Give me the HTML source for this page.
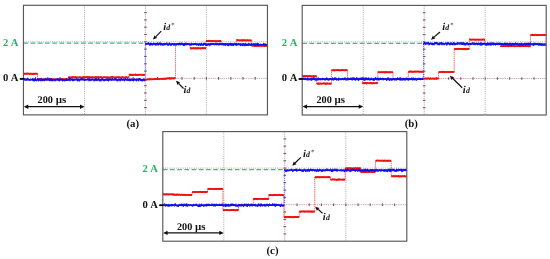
<!DOCTYPE html>
<html><head><meta charset="utf-8"><style>
html,body{margin:0;padding:0;background:#fff;}
body{width:550px;height:259px;overflow:hidden;}
svg{display:block;}
text{font-family:"Liberation Serif","Times New Roman",serif;text-rendering:geometricPrecision;}
</style></head><body>
<svg width="550" height="259" viewBox="0 0 550 259">
<rect width="550" height="259" fill="#fff"/>
<line x1="84.5" y1="5.3" x2="84.5" y2="114.89999999999999" stroke="#a0a0a0" stroke-width="0.9" stroke-dasharray="1 1.2"/>
<line x1="206.4" y1="5.3" x2="206.4" y2="114.89999999999999" stroke="#a0a0a0" stroke-width="0.9" stroke-dasharray="1 1.2"/>
<line x1="23.45" y1="41.8" x2="267.45" y2="41.8" stroke="#a0a0a0" stroke-width="0.9" stroke-dasharray="1 1.2"/>
<line x1="145.4" y1="5.3" x2="145.4" y2="114.89999999999999" stroke="#c29aae" stroke-width="0.85" stroke-dasharray="1.4 0.8"/>
<line x1="23.45" y1="78.4" x2="267.45" y2="78.4" stroke="#c29aae" stroke-width="0.85" stroke-dasharray="1.4 0.8"/>
<line x1="144.1" y1="12.6" x2="146.8" y2="12.6" stroke="#6a5a66" stroke-width="1.1"/>
<line x1="144.1" y1="19.9" x2="146.8" y2="19.9" stroke="#6a5a66" stroke-width="1.1"/>
<line x1="144.1" y1="27.2" x2="146.8" y2="27.2" stroke="#6a5a66" stroke-width="1.1"/>
<line x1="144.1" y1="34.5" x2="146.8" y2="34.5" stroke="#6a5a66" stroke-width="1.1"/>
<line x1="144.1" y1="41.8" x2="146.8" y2="41.8" stroke="#6a5a66" stroke-width="1.1"/>
<line x1="144.1" y1="49.1" x2="146.8" y2="49.1" stroke="#6a5a66" stroke-width="1.1"/>
<line x1="144.1" y1="56.4" x2="146.8" y2="56.4" stroke="#6a5a66" stroke-width="1.1"/>
<line x1="144.1" y1="63.8" x2="146.8" y2="63.8" stroke="#6a5a66" stroke-width="1.1"/>
<line x1="144.1" y1="71.1" x2="146.8" y2="71.1" stroke="#6a5a66" stroke-width="1.1"/>
<line x1="144.1" y1="85.7" x2="146.8" y2="85.7" stroke="#6a5a66" stroke-width="1.1"/>
<line x1="144.1" y1="93.0" x2="146.8" y2="93.0" stroke="#6a5a66" stroke-width="1.1"/>
<line x1="144.1" y1="100.3" x2="146.8" y2="100.3" stroke="#6a5a66" stroke-width="1.1"/>
<line x1="144.1" y1="107.6" x2="146.8" y2="107.6" stroke="#6a5a66" stroke-width="1.1"/>
<line x1="35.6" y1="77.1" x2="35.6" y2="79.7" stroke="#6a5a66" stroke-width="1.1"/>
<line x1="47.8" y1="77.1" x2="47.8" y2="79.7" stroke="#6a5a66" stroke-width="1.1"/>
<line x1="60.0" y1="77.1" x2="60.0" y2="79.7" stroke="#6a5a66" stroke-width="1.1"/>
<line x1="72.2" y1="77.1" x2="72.2" y2="79.7" stroke="#6a5a66" stroke-width="1.1"/>
<line x1="84.5" y1="77.1" x2="84.5" y2="79.7" stroke="#6a5a66" stroke-width="1.1"/>
<line x1="96.7" y1="77.1" x2="96.7" y2="79.7" stroke="#6a5a66" stroke-width="1.1"/>
<line x1="108.9" y1="77.1" x2="108.9" y2="79.7" stroke="#6a5a66" stroke-width="1.1"/>
<line x1="121.0" y1="77.1" x2="121.0" y2="79.7" stroke="#6a5a66" stroke-width="1.1"/>
<line x1="133.2" y1="77.1" x2="133.2" y2="79.7" stroke="#6a5a66" stroke-width="1.1"/>
<line x1="157.6" y1="77.1" x2="157.6" y2="79.7" stroke="#6a5a66" stroke-width="1.1"/>
<line x1="169.8" y1="77.1" x2="169.8" y2="79.7" stroke="#6a5a66" stroke-width="1.1"/>
<line x1="182.0" y1="77.1" x2="182.0" y2="79.7" stroke="#6a5a66" stroke-width="1.1"/>
<line x1="194.2" y1="77.1" x2="194.2" y2="79.7" stroke="#6a5a66" stroke-width="1.1"/>
<line x1="206.4" y1="77.1" x2="206.4" y2="79.7" stroke="#6a5a66" stroke-width="1.1"/>
<line x1="218.6" y1="77.1" x2="218.6" y2="79.7" stroke="#6a5a66" stroke-width="1.1"/>
<line x1="230.8" y1="77.1" x2="230.8" y2="79.7" stroke="#6a5a66" stroke-width="1.1"/>
<line x1="243.0" y1="77.1" x2="243.0" y2="79.7" stroke="#6a5a66" stroke-width="1.1"/>
<line x1="255.2" y1="77.1" x2="255.2" y2="79.7" stroke="#6a5a66" stroke-width="1.1"/>
<line x1="23.45" y1="43.2" x2="145.3" y2="43.2" stroke="#2fc47e" stroke-width="1.25" stroke-dasharray="4.7 2.5"/>
<polygon points="23.5,72.90 37.5,72.90 37.5,74.70 23.5,74.70" fill="#f01010"/>
<polyline points="23.5,73.6 24.0,73.3 24.5,74.0 25.0,73.2 25.5,73.9 26.0,73.6 26.5,73.2 27.0,73.8 27.5,73.2 28.0,73.7 28.5,73.2 29.0,73.2 29.5,73.7 30.0,74.3 30.5,73.3 31.0,73.4 31.5,74.0 32.0,74.4 32.5,73.9 33.0,73.7 33.5,74.5 34.0,73.2 34.5,74.3 35.0,73.5 35.5,73.3 36.0,73.3 36.5,73.5 37.0,74.2 37.5,73.4" fill="none" stroke="#f01010" stroke-width="1.1" stroke-linejoin="round"/>
<polygon points="37.5,78.50 68.0,78.50 68.0,80.30 37.5,80.30" fill="#f01010"/>
<polyline points="37.5,79.5 38.0,79.6 38.5,79.2 39.0,79.5 39.5,78.8 40.0,78.8 40.5,79.0 41.0,79.7 41.5,79.3 42.0,79.1 42.5,79.5 43.0,79.3 43.5,79.1 44.0,79.8 44.5,79.7 45.0,79.0 45.5,79.5 46.0,79.4 46.5,79.9 47.0,79.7 47.5,79.1 48.0,80.1 48.5,78.9 49.0,79.3 49.5,79.8 50.0,78.9 50.5,79.4 51.0,78.8 51.5,79.6 52.0,79.8 52.5,79.5 53.0,79.9 53.5,79.1 54.0,79.7 54.5,79.5 55.0,79.5 55.5,79.3 56.0,79.9 56.5,80.0 57.0,79.4 57.5,79.6 58.0,78.8 58.5,79.7 59.0,79.6 59.5,80.1 60.0,79.9 60.5,79.1 61.0,79.2 61.5,79.6 62.0,78.7 62.5,79.3 63.0,78.9 63.5,78.9 64.0,78.8 64.5,79.8 65.0,78.9 65.5,79.0 66.0,79.2 66.5,79.9 67.0,78.8 67.5,79.3 68.0,79.5" fill="none" stroke="#f01010" stroke-width="1.1" stroke-linejoin="round"/>
<polygon points="68.0,76.40 129.0,76.40 129.0,78.20 68.0,78.20" fill="#f01010"/>
<polyline points="68.0,77.8 68.5,77.7 69.0,77.8 69.5,77.0 70.0,77.2 70.5,77.1 71.0,77.8 71.5,77.9 72.0,76.8 72.5,76.8 73.0,76.9 73.5,76.9 74.0,77.3 74.5,77.4 75.0,77.0 75.5,76.6 76.0,77.2 76.5,77.1 77.0,77.4 77.5,77.9 78.0,77.6 78.5,77.3 79.0,77.5 79.5,77.5 80.0,76.7 80.5,77.9 81.0,77.7 81.5,77.8 82.0,77.7 82.5,77.1 83.0,77.2 83.5,76.7 84.0,77.5 84.5,76.7 85.0,76.7 85.5,76.9 86.0,76.8 86.5,77.1 87.0,76.7 87.5,76.6 88.0,76.8 88.5,76.7 89.0,77.1 89.5,76.6 90.0,77.8 90.5,77.5 91.0,76.8 91.5,77.0 92.0,77.1 92.5,77.1 93.0,76.8 93.5,77.8 94.0,78.0 94.5,77.3 95.0,77.3 95.5,76.7 96.0,76.7 96.5,77.1 97.0,77.0 97.5,77.8 98.0,76.8 98.5,76.6 99.0,77.9 99.5,77.3 100.0,76.8 100.5,77.4 101.0,76.6 101.5,77.3 102.0,78.0 102.5,77.8 103.0,77.6 103.5,77.0 104.0,77.1 104.5,76.8 105.0,77.7 105.5,77.3 106.0,77.7 106.5,77.1 107.0,76.9 107.5,77.7 108.0,78.0 108.5,77.8 109.0,77.7 109.5,77.7 110.0,77.6 110.5,76.9 111.0,77.3 111.5,77.1 112.0,76.6 112.5,76.6 113.0,77.0 113.5,77.0 114.0,77.6 114.5,77.9 115.0,77.2 115.5,77.9 116.0,78.0 116.5,77.9 117.0,77.1 117.5,76.9 118.0,76.9 118.5,76.9 119.0,76.9 119.5,77.5 120.0,77.9 120.5,77.8 121.0,77.3 121.5,77.5 122.0,77.7 122.5,76.7 123.0,77.5 123.5,77.9 124.0,77.7 124.5,77.7 125.0,77.3 125.5,76.8 126.0,77.7 126.5,77.1 127.0,77.7 127.5,78.0 128.0,77.2 128.5,77.2 129.0,77.9" fill="none" stroke="#f01010" stroke-width="1.1" stroke-linejoin="round"/>
<polygon points="129.0,73.90 145.0,73.90 145.0,75.70 129.0,75.70" fill="#f01010"/>
<polyline points="129.0,75.1 129.5,74.3 130.0,74.3 130.5,74.3 131.0,75.4 131.5,75.2 132.0,74.3 132.5,75.3 133.0,75.5 133.5,75.0 134.0,74.6 134.5,74.9 135.0,74.3 135.5,74.1 136.0,75.5 136.5,75.0 137.0,74.8 137.5,75.4 138.0,74.7 138.5,75.3 139.0,75.3 139.5,74.4 140.0,74.5 140.5,74.5 141.0,74.4 141.5,74.9 142.0,74.5 142.5,74.7 143.0,74.3 143.5,75.4 144.0,74.6 144.5,74.7 145.0,74.9" fill="none" stroke="#f01010" stroke-width="1.1" stroke-linejoin="round"/>
<polygon points="145.0,78.70 175.4,77.30 175.4,79.10 145.0,80.50" fill="#f01010"/>
<polyline points="145.0,80.2 145.5,79.5 146.0,80.1 146.5,79.5 147.0,79.6 147.5,79.5 148.0,78.8 148.5,79.4 149.0,79.0 149.5,78.7 150.0,79.8 150.5,78.9 151.0,79.3 151.5,79.6 152.0,79.4 152.5,79.0 153.0,79.3 153.5,79.3 154.0,79.6 154.5,78.6 155.0,79.2 155.5,78.8 156.0,78.8 156.5,79.5 157.0,79.1 157.5,79.1 158.0,79.4 158.5,79.6 159.0,78.9 159.5,79.1 160.0,78.9 160.5,78.9 161.0,79.1 161.5,78.8 162.0,78.9 162.5,78.8 163.0,79.4 163.5,79.0 164.0,79.3 164.5,79.3 165.0,78.3 165.5,78.7 166.0,79.3 166.5,79.1 167.0,78.1 167.5,78.0 168.0,78.5 168.5,77.9 169.0,78.1 169.5,77.9 170.0,78.7 170.5,78.8 171.0,79.0 171.5,77.9 172.0,78.7 172.5,78.6 173.0,77.8 173.5,78.8 174.0,78.9 174.5,77.8 175.0,78.9" fill="none" stroke="#f01010" stroke-width="1.1" stroke-linejoin="round"/>
<polygon points="175.4,43.30 190.1,43.30 190.1,45.10 175.4,45.10" fill="#f01010"/>
<polyline points="175.4,44.1 175.9,44.2 176.4,44.9 176.9,44.7 177.4,43.7 177.9,44.1 178.4,44.2 178.9,44.0 179.4,43.8 179.9,43.9 180.4,44.5 180.9,43.5 181.4,44.3 181.9,44.1 182.4,43.5 182.9,44.0 183.4,44.4 183.9,44.2 184.4,43.6 184.9,44.9 185.4,44.6 185.9,44.9 186.4,43.6 186.9,43.9 187.4,43.6 187.9,44.6 188.4,43.9 188.9,43.7 189.4,44.1 189.9,44.8" fill="none" stroke="#f01010" stroke-width="1.1" stroke-linejoin="round"/>
<polygon points="190.1,47.40 206.0,47.40 206.0,49.20 190.1,49.20" fill="#f01010"/>
<polyline points="190.1,48.7 190.6,48.0 191.1,47.8 191.6,48.9 192.1,48.4 192.6,48.6 193.1,47.7 193.6,47.7 194.1,48.6 194.6,48.2 195.1,47.7 195.6,48.9 196.1,48.5 196.6,48.7 197.1,47.7 197.6,48.8 198.1,47.7 198.6,48.8 199.1,48.2 199.6,48.1 200.1,48.4 200.6,48.9 201.1,48.0 201.6,47.8 202.1,48.3 202.6,47.9 203.1,47.8 203.6,47.8 204.1,47.7 204.6,47.9 205.1,48.0 205.6,48.0" fill="none" stroke="#f01010" stroke-width="1.1" stroke-linejoin="round"/>
<polygon points="206.0,40.20 221.2,40.20 221.2,42.00 206.0,42.00" fill="#f01010"/>
<polyline points="206.0,41.5 206.5,40.8 207.0,41.1 207.5,40.6 208.0,40.9 208.5,40.4 209.0,40.8 209.5,40.4 210.0,41.4 210.5,41.2 211.0,40.7 211.5,41.1 212.0,41.7 212.5,40.5 213.0,41.5 213.5,41.0 214.0,41.1 214.5,41.6 215.0,41.0 215.5,41.1 216.0,41.4 216.5,41.8 217.0,40.9 217.5,41.6 218.0,41.4 218.5,41.3 219.0,41.0 219.5,40.9 220.0,40.5 220.5,40.6 221.0,40.5" fill="none" stroke="#f01010" stroke-width="1.1" stroke-linejoin="round"/>
<polygon points="221.2,43.30 236.4,43.30 236.4,45.10 221.2,45.10" fill="#f01010"/>
<polyline points="221.2,44.5 221.7,43.9 222.2,43.7 222.7,43.6 223.2,44.7 223.7,44.7 224.2,44.4 224.7,43.9 225.2,43.8 225.7,43.9 226.2,44.1 226.7,43.7 227.2,44.1 227.7,43.9 228.2,44.8 228.7,44.9 229.2,44.3 229.7,43.8 230.2,44.9 230.7,43.9 231.2,44.0 231.7,43.5 232.2,44.0 232.7,44.2 233.2,44.2 233.7,43.8 234.2,44.2 234.7,43.5 235.2,43.9 235.7,43.6 236.2,44.1" fill="none" stroke="#f01010" stroke-width="1.1" stroke-linejoin="round"/>
<polygon points="236.4,39.40 251.6,39.40 251.6,41.20 236.4,41.20" fill="#f01010"/>
<polyline points="236.4,39.7 236.9,39.6 237.4,40.0 237.9,39.9 238.4,40.4 238.9,40.3 239.4,40.7 239.9,40.5 240.4,40.6 240.9,40.8 241.4,40.1 241.9,40.1 242.4,41.0 242.9,39.8 243.4,40.6 243.9,40.5 244.4,39.7 244.9,40.8 245.4,40.8 245.9,40.5 246.4,40.6 246.9,40.7 247.4,39.8 247.9,40.3 248.4,40.3 248.9,40.8 249.4,40.7 249.9,40.8 250.4,40.4 250.9,40.8 251.4,40.6" fill="none" stroke="#f01010" stroke-width="1.1" stroke-linejoin="round"/>
<polygon points="251.6,44.90 267.3,44.90 267.3,46.70 251.6,46.70" fill="#f01010"/>
<polyline points="251.6,46.1 252.1,45.4 252.6,45.1 253.1,45.3 253.6,45.6 254.1,45.2 254.6,46.3 255.1,45.9 255.6,46.0 256.1,46.0 256.6,46.1 257.1,45.8 257.6,45.1 258.1,46.2 258.6,46.1 259.1,45.8 259.6,45.8 260.1,46.0 260.6,45.2 261.1,46.1 261.6,45.5 262.1,45.2 262.6,45.5 263.1,46.1 263.6,45.4 264.1,46.1 264.6,46.5 265.1,45.8 265.6,45.6 266.1,45.8 266.6,46.1 267.1,46.2" fill="none" stroke="#f01010" stroke-width="1.1" stroke-linejoin="round"/>
<line x1="37.5" y1="73.8" x2="37.5" y2="79.4" stroke="#f01010" stroke-width="0.8" stroke-dasharray="1.5 0.6" opacity="0.8"/>
<line x1="68.0" y1="79.4" x2="68.0" y2="77.3" stroke="#f01010" stroke-width="0.8" stroke-dasharray="1.5 0.6" opacity="0.8"/>
<line x1="129.0" y1="77.3" x2="129.0" y2="74.8" stroke="#f01010" stroke-width="0.8" stroke-dasharray="1.5 0.6" opacity="0.8"/>
<line x1="175.4" y1="78.2" x2="175.4" y2="44.2" stroke="#f01010" stroke-width="0.8" stroke-dasharray="1.5 0.6" opacity="0.8"/>
<line x1="190.1" y1="44.2" x2="190.1" y2="48.3" stroke="#f01010" stroke-width="0.8" stroke-dasharray="1.5 0.6" opacity="0.8"/>
<line x1="206.0" y1="48.3" x2="206.0" y2="41.1" stroke="#f01010" stroke-width="0.8" stroke-dasharray="1.5 0.6" opacity="0.8"/>
<line x1="221.2" y1="41.1" x2="221.2" y2="44.2" stroke="#f01010" stroke-width="0.8" stroke-dasharray="1.5 0.6" opacity="0.8"/>
<line x1="236.4" y1="44.2" x2="236.4" y2="40.3" stroke="#f01010" stroke-width="0.8" stroke-dasharray="1.5 0.6" opacity="0.8"/>
<line x1="251.6" y1="40.3" x2="251.6" y2="45.8" stroke="#f01010" stroke-width="0.8" stroke-dasharray="1.5 0.6" opacity="0.8"/>
<polygon points="23.4,78.90 145.3,78.90 145.3,80.50 23.4,80.50" fill="#1010f0"/>
<polyline points="23.4,80.0 23.9,80.1 24.4,78.6 24.9,78.8 25.4,79.1 25.9,80.3 26.4,79.2 26.9,79.9 27.4,78.4 27.9,78.6 28.4,79.1 28.9,80.1 29.4,80.2 29.9,80.2 30.4,79.2 30.9,79.7 31.4,79.6 31.9,79.6 32.5,78.7 33.0,80.7 33.5,78.9 34.0,80.9 34.5,80.8 35.0,78.4 35.5,79.6 36.0,80.5 36.5,80.9 37.0,79.6 37.5,79.1 38.0,78.9 38.5,80.9 39.0,78.9 39.5,79.9 40.0,78.8 40.5,79.8 41.0,80.9 41.5,78.7 42.0,80.5 42.5,79.7 43.0,80.7 43.5,80.2 44.0,79.0 44.5,80.7 45.0,79.7 45.5,78.5 46.0,78.4 46.5,79.7 47.0,79.6 47.5,79.2 48.0,78.8 48.5,79.3 49.0,79.2 49.5,80.6 50.0,78.4 50.5,80.4 51.0,80.6 51.5,78.7 52.0,80.8 52.5,80.3 53.0,80.7 53.5,79.2 54.0,79.4 54.5,79.4 55.0,81.0 55.5,79.9 56.0,79.3 56.5,79.5 57.0,79.1 57.5,78.5 58.0,78.7 58.5,80.6 59.0,79.1 59.5,80.8 60.0,79.0 60.5,79.1 61.0,79.7 61.5,78.9 62.0,79.4 62.5,80.9 63.0,80.7 63.5,80.5 64.0,80.0 64.5,80.8 65.0,80.8 65.5,79.8 66.0,80.3 66.5,78.5 67.0,80.3 67.5,79.6 68.0,80.4 68.5,80.1 69.0,79.1 69.5,78.5 70.0,80.8 70.5,78.7 71.0,79.6 71.5,79.3 72.0,79.2 72.5,80.3 73.0,80.9 73.5,79.1 74.0,80.1 74.5,79.2 75.0,79.8 75.5,79.4 76.0,78.8 76.5,78.8 77.0,78.9 77.5,80.8 78.0,79.7 78.5,79.0 79.0,80.8 79.5,81.0 80.0,79.6 80.5,78.8 81.0,78.9 81.5,78.6 82.0,79.3 82.5,78.6 83.0,79.0 83.5,79.1 84.0,79.9 84.5,80.7 85.0,80.3 85.5,79.5 86.0,79.5 86.5,79.8 87.0,79.4 87.5,79.3 88.0,78.6 88.5,79.1 89.0,80.9 89.5,78.7 90.0,79.7 90.5,80.0 91.0,80.6 91.5,79.0 92.0,79.1 92.5,79.0 93.0,79.4 93.5,79.6 94.0,80.9 94.5,80.6 95.0,80.7 95.5,78.5 96.0,78.5 96.5,80.2 97.0,80.7 97.5,79.6 98.0,79.9 98.5,78.4 99.0,79.4 99.5,80.8 100.0,80.5 100.5,80.6 101.0,80.9 101.5,79.0 102.0,78.7 102.5,78.8 103.0,79.8 103.5,80.2 104.0,80.8 104.5,80.3 105.0,80.1 105.5,80.4 106.0,79.6 106.5,79.8 107.0,78.5 107.5,80.4 108.0,79.0 108.5,80.8 109.0,80.1 109.5,79.2 110.0,78.7 110.5,79.1 111.0,80.1 111.5,80.2 112.0,78.7 112.5,78.6 113.0,79.8 113.5,79.9 114.0,79.4 114.5,79.0 115.0,80.0 115.5,78.4 116.0,79.2 116.5,79.6 117.0,80.9 117.5,80.1 118.0,80.7 118.5,79.6 119.0,79.0 119.5,79.0 120.0,80.9 120.5,80.2 121.0,79.2 121.5,78.5 122.0,79.7 122.5,80.2 123.0,79.5 123.5,79.1 124.0,80.1 124.5,80.8 125.0,79.0 125.5,78.5 126.0,79.3 126.5,79.5 127.0,80.2 127.5,78.9 128.0,80.5 128.4,80.3 128.9,79.7 129.4,78.9 129.9,80.9 130.4,79.2 130.9,80.5 131.4,79.0 131.9,79.0 132.4,80.4 132.9,79.2 133.4,80.9 133.9,79.7 134.4,78.9 134.9,79.0 135.4,79.5 135.9,80.1 136.4,80.9 136.9,78.8 137.4,79.4 137.9,79.0 138.4,80.9 138.9,78.8 139.4,78.5 139.9,78.6 140.4,79.4 140.9,80.7 141.4,80.7 141.9,80.3 142.4,81.0 142.9,80.8 143.4,79.3 143.9,78.9 144.4,80.8 144.9,80.3" fill="none" stroke="#1010f0" stroke-width="1.2" stroke-linejoin="round"/>
<line x1="145.3" y1="79.7" x2="145.3" y2="44.0" stroke="#4a4aff" stroke-width="0.9" stroke-dasharray="1.2 0.8" opacity="0.75"/>
<polygon points="145.3,43.20 267.4,43.80 267.4,45.40 145.3,44.80" fill="#1010f0"/>
<polyline points="145.3,42.8 145.8,44.4 146.3,43.7 146.8,43.7 147.3,43.6 147.8,43.2 148.3,42.7 148.8,43.4 149.3,43.6 149.8,45.2 150.3,43.0 150.8,45.2 151.3,43.3 151.8,43.7 152.3,44.9 152.8,44.9 153.3,43.9 153.8,42.9 154.3,44.0 154.8,43.7 155.3,45.1 155.8,43.3 156.3,43.7 156.8,45.1 157.3,42.8 157.8,43.8 158.3,44.9 158.8,44.8 159.3,42.9 159.8,42.9 160.3,42.9 160.8,45.2 161.3,43.4 161.8,44.7 162.3,45.1 162.8,43.7 163.3,43.5 163.8,45.3 164.3,44.4 164.8,43.5 165.3,44.7 165.8,43.6 166.3,43.5 166.8,42.8 167.3,44.8 167.8,45.2 168.3,44.5 168.8,45.3 169.3,42.9 169.8,43.4 170.3,44.1 170.8,45.3 171.3,45.3 171.8,43.8 172.3,43.5 172.8,44.0 173.3,44.1 173.8,45.3 174.3,43.3 174.8,44.9 175.3,44.8 175.8,45.0 176.3,44.9 176.8,44.4 177.3,43.7 177.8,43.7 178.3,43.8 178.8,44.9 179.3,43.1 179.8,43.4 180.3,44.8 180.8,43.5 181.3,43.0 181.8,43.0 182.3,44.3 182.8,43.7 183.3,45.4 183.8,45.2 184.3,45.5 184.8,43.6 185.3,43.1 185.8,43.1 186.3,44.2 186.8,44.7 187.3,44.1 187.8,43.5 188.3,44.0 188.8,44.5 189.3,44.7 189.8,44.9 190.3,45.1 190.8,44.7 191.3,43.2 191.8,45.1 192.3,43.7 192.8,44.4 193.3,43.9 193.8,44.9 194.3,43.5 194.8,43.6 195.3,43.6 195.8,43.3 196.3,45.2 196.8,44.5 197.3,43.8 197.8,44.0 198.3,45.5 198.8,44.3 199.3,43.6 199.8,45.1 200.3,44.7 200.8,45.5 201.3,43.2 201.8,44.2 202.3,45.1 202.8,45.2 203.3,45.4 203.8,43.1 204.3,43.8 204.8,43.3 205.3,43.5 205.8,45.5 206.3,44.5 206.8,45.4 207.3,44.0 207.8,45.3 208.3,44.2 208.8,43.7 209.3,45.0 209.8,45.5 210.3,43.3 210.8,44.6 211.3,44.6 211.8,43.6 212.3,44.0 212.8,43.4 213.3,43.6 213.8,43.7 214.3,44.6 214.8,44.7 215.3,43.6 215.8,43.1 216.3,43.9 216.8,44.8 217.3,43.5 217.8,43.9 218.3,43.6 218.8,45.1 219.3,44.5 219.8,43.2 220.3,43.3 220.8,44.1 221.3,44.5 221.8,44.7 222.3,43.3 222.8,43.5 223.3,44.9 223.8,44.2 224.3,43.8 224.8,43.9 225.3,45.6 225.8,43.9 226.3,44.6 226.8,44.0 227.3,44.2 227.8,45.4 228.3,45.7 228.8,44.1 229.3,43.6 229.8,45.0 230.3,43.6 230.8,43.1 231.3,45.5 231.8,44.2 232.3,45.3 232.8,44.2 233.3,45.4 233.8,44.3 234.3,43.6 234.8,43.2 235.3,44.6 235.8,44.8 236.3,45.5 236.8,43.4 237.3,44.8 237.8,44.1 238.3,44.5 238.8,43.5 239.3,43.9 239.8,44.5 240.3,45.6 240.8,43.5 241.3,44.4 241.8,45.3 242.3,45.7 242.8,43.7 243.3,43.5 243.8,45.6 244.3,45.7 244.8,44.4 245.3,43.3 245.8,45.6 246.3,44.2 246.8,45.5 247.3,44.8 247.8,45.3 248.3,43.6 248.8,45.3 249.3,43.8 249.8,44.3 250.3,45.4 250.8,45.4 251.3,43.7 251.8,43.8 252.3,44.3 252.8,44.6 253.3,44.2 253.8,43.6 254.3,43.9 254.8,45.1 255.3,45.6 255.8,43.3 256.3,44.7 256.8,45.2 257.3,43.3 257.8,45.4 258.3,43.6 258.8,44.8 259.3,44.7 259.8,44.9 260.3,44.1 260.8,44.4 261.3,44.8 261.8,44.4 262.3,45.0 262.8,44.4 263.3,44.4 263.8,43.3 264.3,44.9 264.8,44.6 265.3,43.9 265.8,45.3 266.3,45.3 266.8,44.5 267.3,43.8" fill="none" stroke="#1010f0" stroke-width="1.2" stroke-linejoin="round"/>
<rect x="23.45" y="5.3" width="244.0" height="109.6" fill="none" stroke="#585858" stroke-width="1.15"/>
<line x1="19.8" y1="78.9" x2="23.9" y2="78.9" stroke="#000" stroke-width="1.8"/>
<line x1="25.8" y1="106.7" x2="82.5" y2="106.7" stroke="#111" stroke-width="1.2"/>
<path d="M23.8,106.7 l4.5,-2.2 l0,4.4 z M84.5,106.7 l-4.5,-2.2 l0,4.4 z" fill="#111"/>
<line x1="363.2" y1="5.4" x2="363.2" y2="115.0" stroke="#a0a0a0" stroke-width="0.9" stroke-dasharray="1 1.2"/>
<line x1="485.2" y1="5.4" x2="485.2" y2="115.0" stroke="#a0a0a0" stroke-width="0.9" stroke-dasharray="1 1.2"/>
<line x1="302.2" y1="41.9" x2="546.2" y2="41.9" stroke="#a0a0a0" stroke-width="0.9" stroke-dasharray="1 1.2"/>
<line x1="424.2" y1="5.4" x2="424.2" y2="115.0" stroke="#c29aae" stroke-width="0.85" stroke-dasharray="1.4 0.8"/>
<line x1="302.2" y1="78.5" x2="546.2" y2="78.5" stroke="#c29aae" stroke-width="0.85" stroke-dasharray="1.4 0.8"/>
<line x1="422.9" y1="12.7" x2="425.5" y2="12.7" stroke="#6a5a66" stroke-width="1.1"/>
<line x1="422.9" y1="20.0" x2="425.5" y2="20.0" stroke="#6a5a66" stroke-width="1.1"/>
<line x1="422.9" y1="27.3" x2="425.5" y2="27.3" stroke="#6a5a66" stroke-width="1.1"/>
<line x1="422.9" y1="34.6" x2="425.5" y2="34.6" stroke="#6a5a66" stroke-width="1.1"/>
<line x1="422.9" y1="41.9" x2="425.5" y2="41.9" stroke="#6a5a66" stroke-width="1.1"/>
<line x1="422.9" y1="49.2" x2="425.5" y2="49.2" stroke="#6a5a66" stroke-width="1.1"/>
<line x1="422.9" y1="56.5" x2="425.5" y2="56.5" stroke="#6a5a66" stroke-width="1.1"/>
<line x1="422.9" y1="63.9" x2="425.5" y2="63.9" stroke="#6a5a66" stroke-width="1.1"/>
<line x1="422.9" y1="71.2" x2="425.5" y2="71.2" stroke="#6a5a66" stroke-width="1.1"/>
<line x1="422.9" y1="85.8" x2="425.5" y2="85.8" stroke="#6a5a66" stroke-width="1.1"/>
<line x1="422.9" y1="93.1" x2="425.5" y2="93.1" stroke="#6a5a66" stroke-width="1.1"/>
<line x1="422.9" y1="100.4" x2="425.5" y2="100.4" stroke="#6a5a66" stroke-width="1.1"/>
<line x1="422.9" y1="107.7" x2="425.5" y2="107.7" stroke="#6a5a66" stroke-width="1.1"/>
<line x1="314.4" y1="77.2" x2="314.4" y2="79.8" stroke="#6a5a66" stroke-width="1.1"/>
<line x1="326.6" y1="77.2" x2="326.6" y2="79.8" stroke="#6a5a66" stroke-width="1.1"/>
<line x1="338.8" y1="77.2" x2="338.8" y2="79.8" stroke="#6a5a66" stroke-width="1.1"/>
<line x1="351.0" y1="77.2" x2="351.0" y2="79.8" stroke="#6a5a66" stroke-width="1.1"/>
<line x1="363.2" y1="77.2" x2="363.2" y2="79.8" stroke="#6a5a66" stroke-width="1.1"/>
<line x1="375.4" y1="77.2" x2="375.4" y2="79.8" stroke="#6a5a66" stroke-width="1.1"/>
<line x1="387.6" y1="77.2" x2="387.6" y2="79.8" stroke="#6a5a66" stroke-width="1.1"/>
<line x1="399.8" y1="77.2" x2="399.8" y2="79.8" stroke="#6a5a66" stroke-width="1.1"/>
<line x1="412.0" y1="77.2" x2="412.0" y2="79.8" stroke="#6a5a66" stroke-width="1.1"/>
<line x1="436.4" y1="77.2" x2="436.4" y2="79.8" stroke="#6a5a66" stroke-width="1.1"/>
<line x1="448.6" y1="77.2" x2="448.6" y2="79.8" stroke="#6a5a66" stroke-width="1.1"/>
<line x1="460.8" y1="77.2" x2="460.8" y2="79.8" stroke="#6a5a66" stroke-width="1.1"/>
<line x1="473.0" y1="77.2" x2="473.0" y2="79.8" stroke="#6a5a66" stroke-width="1.1"/>
<line x1="485.2" y1="77.2" x2="485.2" y2="79.8" stroke="#6a5a66" stroke-width="1.1"/>
<line x1="497.4" y1="77.2" x2="497.4" y2="79.8" stroke="#6a5a66" stroke-width="1.1"/>
<line x1="509.6" y1="77.2" x2="509.6" y2="79.8" stroke="#6a5a66" stroke-width="1.1"/>
<line x1="521.8" y1="77.2" x2="521.8" y2="79.8" stroke="#6a5a66" stroke-width="1.1"/>
<line x1="534.0" y1="77.2" x2="534.0" y2="79.8" stroke="#6a5a66" stroke-width="1.1"/>
<line x1="302.2" y1="43.3" x2="423.5" y2="43.3" stroke="#2fc47e" stroke-width="1.25" stroke-dasharray="4.7 2.5"/>
<polygon points="302.2,75.30 316.7,75.30 316.7,77.10 302.2,77.10" fill="#f01010"/>
<polyline points="302.2,76.2 302.7,75.6 303.2,75.7 303.7,76.1 304.2,75.6 304.7,76.1 305.2,76.2 305.7,75.6 306.2,76.4 306.7,75.6 307.2,76.5 307.7,76.6 308.2,76.2 308.7,75.6 309.2,76.2 309.7,76.0 310.2,76.8 310.7,75.7 311.2,76.7 311.7,76.9 312.2,76.5 312.7,76.6 313.2,75.8 313.7,76.9 314.2,76.2 314.7,76.8 315.2,76.8 315.7,75.7 316.2,76.6 316.7,76.8" fill="none" stroke="#f01010" stroke-width="1.1" stroke-linejoin="round"/>
<polygon points="316.7,82.70 331.6,82.70 331.6,84.50 316.7,84.50" fill="#f01010"/>
<polyline points="316.7,83.0 317.2,83.4 317.7,84.0 318.2,83.1 318.7,84.2 319.2,83.3 319.7,84.0 320.2,83.1 320.7,83.6 321.2,84.2 321.7,83.2 322.2,83.3 322.7,83.6 323.2,83.3 323.7,83.0 324.2,83.2 324.7,83.1 325.2,84.2 325.7,83.9 326.2,84.2 326.7,83.1 327.2,84.0 327.7,83.1 328.2,83.6 328.7,83.8 329.2,83.4 329.7,84.1 330.2,83.7 330.7,83.7 331.2,84.1" fill="none" stroke="#f01010" stroke-width="1.1" stroke-linejoin="round"/>
<polygon points="331.6,69.30 347.5,69.30 347.5,71.10 331.6,71.10" fill="#f01010"/>
<polyline points="331.6,69.6 332.1,70.9 332.6,70.4 333.1,70.1 333.6,70.6 334.1,69.9 334.6,70.9 335.1,70.3 335.6,70.0 336.1,70.6 336.6,70.1 337.1,69.7 337.6,70.5 338.1,69.6 338.6,70.6 339.1,69.9 339.6,70.4 340.1,70.9 340.6,70.3 341.1,70.4 341.6,69.9 342.1,69.5 342.6,69.5 343.1,69.7 343.6,70.4 344.1,70.1 344.6,70.2 345.1,70.8 345.6,69.7 346.1,69.8 346.6,70.4 347.1,69.5" fill="none" stroke="#f01010" stroke-width="1.1" stroke-linejoin="round"/>
<polygon points="347.6,77.90 362.4,77.90 362.4,79.70 347.6,79.70" fill="#f01010"/>
<polyline points="347.6,78.1 348.1,78.6 348.6,78.2 349.1,78.6 349.6,78.4 350.1,78.9 350.6,78.9 351.1,78.4 351.6,79.0 352.1,78.8 352.6,78.3 353.1,79.4 353.6,78.4 354.1,78.3 354.6,78.2 355.1,79.0 355.6,79.3 356.1,79.2 356.6,78.7 357.1,78.5 357.6,78.1 358.1,79.0 358.6,78.9 359.1,78.6 359.6,79.0 360.1,78.7 360.6,79.4 361.1,79.1 361.6,78.4 362.1,79.4" fill="none" stroke="#f01010" stroke-width="1.1" stroke-linejoin="round"/>
<polygon points="362.4,82.30 377.8,82.30 377.8,84.10 362.4,84.10" fill="#f01010"/>
<polyline points="362.4,82.6 362.9,83.2 363.4,83.1 363.9,82.8 364.4,82.6 364.9,83.6 365.4,82.5 365.9,83.3 366.4,83.8 366.9,82.7 367.4,82.8 367.9,83.4 368.4,83.2 368.9,83.4 369.4,83.6 369.9,82.7 370.4,82.9 370.9,82.9 371.4,82.6 371.9,83.7 372.4,83.6 372.9,83.5 373.4,82.5 373.9,83.7 374.4,83.5 374.9,83.2 375.4,83.5 375.9,83.1 376.4,82.8 376.9,82.6 377.4,82.8" fill="none" stroke="#f01010" stroke-width="1.1" stroke-linejoin="round"/>
<polygon points="377.8,71.30 393.0,71.30 393.0,73.10 377.8,73.10" fill="#f01010"/>
<polyline points="377.8,71.6 378.3,72.0 378.8,72.5 379.3,72.5 379.8,72.7 380.3,72.5 380.8,71.9 381.3,72.3 381.8,72.1 382.3,72.6 382.8,72.2 383.3,71.9 383.8,72.4 384.3,72.9 384.8,71.8 385.3,72.7 385.8,71.5 386.3,71.9 386.8,71.8 387.3,72.5 387.8,72.8 388.3,72.5 388.8,72.0 389.3,72.7 389.8,72.0 390.3,71.8 390.8,72.8 391.3,72.4 391.8,72.5 392.3,72.4 392.8,72.9" fill="none" stroke="#f01010" stroke-width="1.1" stroke-linejoin="round"/>
<polygon points="393.0,78.10 408.2,78.10 408.2,79.90 393.0,79.90" fill="#f01010"/>
<polyline points="393.0,79.0 393.5,79.5 394.0,79.3 394.5,79.5 395.0,78.9 395.5,79.3 396.0,79.1 396.5,78.7 397.0,78.6 397.5,79.2 398.0,78.4 398.5,79.6 399.0,78.5 399.5,78.3 400.0,78.4 400.5,79.6 401.0,78.8 401.5,78.5 402.0,78.3 402.5,78.4 403.0,79.3 403.5,79.2 404.0,79.3 404.5,79.3 405.0,78.4 405.5,79.1 406.0,78.8 406.5,79.4 407.0,79.4 407.5,79.5 408.0,78.4" fill="none" stroke="#f01010" stroke-width="1.1" stroke-linejoin="round"/>
<polygon points="408.2,70.80 423.3,70.80 423.3,72.60 408.2,72.60" fill="#f01010"/>
<polyline points="408.2,72.2 408.7,72.3 409.2,72.3 409.7,71.1 410.2,71.3 410.7,71.2 411.2,71.0 411.7,72.2 412.2,72.1 412.7,71.9 413.2,72.2 413.7,71.9 414.2,71.4 414.7,71.1 415.2,71.1 415.7,72.1 416.2,71.3 416.7,71.4 417.2,71.6 417.7,71.0 418.2,71.4 418.7,71.4 419.2,72.0 419.7,71.5 420.2,71.4 420.7,72.3 421.2,71.7 421.7,72.2 422.2,71.9 422.7,71.0 423.2,71.6" fill="none" stroke="#f01010" stroke-width="1.1" stroke-linejoin="round"/>
<polygon points="423.3,77.70 438.6,77.70 438.6,79.50 423.3,79.50" fill="#f01010"/>
<polyline points="423.3,78.5 423.8,79.0 424.3,78.4 424.8,78.9 425.3,78.7 425.8,78.2 426.3,79.1 426.8,78.0 427.3,79.0 427.8,78.1 428.3,77.9 428.8,78.2 429.3,79.0 429.8,79.3 430.3,77.9 430.8,78.6 431.3,78.6 431.8,79.0 432.3,78.2 432.8,78.6 433.3,78.4 433.8,79.1 434.3,78.3 434.8,79.2 435.3,78.3 435.8,78.2 436.3,78.9 436.8,78.6 437.3,78.1 437.8,78.8 438.3,78.0" fill="none" stroke="#f01010" stroke-width="1.1" stroke-linejoin="round"/>
<polygon points="438.6,71.10 454.2,71.10 454.2,72.90 438.6,72.90" fill="#f01010"/>
<polyline points="438.6,72.4 439.1,72.3 439.6,72.4 440.1,72.2 440.6,71.8 441.1,71.9 441.6,71.9 442.1,72.5 442.6,71.4 443.1,72.5 443.6,71.3 444.1,71.6 444.6,71.7 445.1,72.6 445.6,72.0 446.1,71.8 446.6,72.5 447.1,71.6 447.6,71.9 448.1,72.0 448.6,72.4 449.1,72.4 449.6,72.2 450.1,71.8 450.6,71.8 451.1,71.5 451.6,72.5 452.1,72.2 452.6,72.3 453.1,71.5 453.6,71.9 454.1,72.4" fill="none" stroke="#f01010" stroke-width="1.1" stroke-linejoin="round"/>
<polygon points="454.2,48.10 469.3,48.10 469.3,49.90 454.2,49.90" fill="#f01010"/>
<polyline points="454.2,49.1 454.7,48.5 455.2,48.9 455.7,49.5 456.2,48.6 456.7,48.6 457.2,48.7 457.7,49.3 458.2,49.5 458.7,48.5 459.2,48.5 459.7,48.6 460.2,48.8 460.7,49.0 461.2,48.5 461.7,48.8 462.2,48.6 462.7,49.7 463.2,49.3 463.7,48.4 464.2,49.6 464.7,48.4 465.2,48.8 465.7,49.7 466.2,49.4 466.7,49.3 467.2,48.9 467.7,48.6 468.2,49.2 468.7,48.4 469.2,48.6" fill="none" stroke="#f01010" stroke-width="1.1" stroke-linejoin="round"/>
<polygon points="469.3,38.70 484.8,38.70 484.8,40.50 469.3,40.50" fill="#f01010"/>
<polyline points="469.3,39.4 469.8,38.9 470.3,39.5 470.8,40.0 471.3,39.9 471.8,39.6 472.3,39.8 472.8,39.5 473.3,39.1 473.8,39.7 474.3,39.5 474.8,39.9 475.3,40.2 475.8,39.5 476.3,39.7 476.8,39.9 477.3,39.5 477.8,39.2 478.3,39.9 478.8,40.1 479.3,40.0 479.8,39.9 480.3,40.1 480.8,39.9 481.3,39.8 481.8,39.5 482.3,39.3 482.8,39.8 483.3,39.0 483.8,39.5 484.3,40.0 484.8,39.9" fill="none" stroke="#f01010" stroke-width="1.1" stroke-linejoin="round"/>
<polygon points="484.8,43.00 500.4,43.00 500.4,44.80 484.8,44.80" fill="#f01010"/>
<polyline points="484.8,44.1 485.3,43.6 485.8,43.8 486.3,43.8 486.8,44.1 487.3,43.8 487.8,44.1 488.3,44.5 488.8,43.5 489.3,44.1 489.8,44.3 490.3,43.7 490.8,43.9 491.3,44.6 491.8,43.3 492.3,44.0 492.8,43.4 493.3,44.3 493.8,44.5 494.3,43.9 494.8,43.3 495.3,44.0 495.8,44.0 496.3,44.2 496.8,43.9 497.3,44.1 497.8,44.4 498.3,43.9 498.8,43.8 499.3,44.5 499.8,43.5 500.3,44.2" fill="none" stroke="#f01010" stroke-width="1.1" stroke-linejoin="round"/>
<polygon points="500.4,45.20 530.6,45.20 530.6,47.00 500.4,47.00" fill="#f01010"/>
<polyline points="500.4,45.9 500.9,46.5 501.4,45.6 501.9,46.8 502.4,45.9 502.9,45.5 503.4,45.8 503.9,46.0 504.4,45.4 504.9,46.0 505.4,46.0 505.9,46.4 506.4,45.9 506.9,45.8 507.4,45.7 507.9,46.4 508.4,46.7 508.9,46.1 509.4,45.7 509.9,46.5 510.4,45.9 510.9,45.7 511.4,45.6 511.9,46.5 512.4,46.5 512.9,46.3 513.4,46.1 513.9,46.2 514.4,45.7 514.9,46.7 515.4,45.9 515.9,46.3 516.4,46.5 516.9,46.5 517.4,46.1 517.9,45.8 518.4,46.2 518.9,45.6 519.4,46.6 519.9,45.9 520.4,46.6 520.9,45.8 521.4,45.9 521.9,45.8 522.4,46.0 522.9,45.7 523.4,45.4 523.9,46.4 524.4,45.8 524.9,45.7 525.4,45.8 525.9,46.1 526.4,46.0 526.9,46.3 527.4,46.3 527.9,45.9 528.4,46.7 528.9,46.6 529.4,45.5 529.9,46.6 530.4,46.7" fill="none" stroke="#f01010" stroke-width="1.1" stroke-linejoin="round"/>
<polygon points="530.6,34.10 546.2,34.10 546.2,35.90 530.6,35.90" fill="#f01010"/>
<polyline points="530.6,35.4 531.1,34.5 531.6,35.5 532.1,35.2 532.6,34.3 533.1,34.3 533.6,35.6 534.1,35.2 534.6,34.7 535.1,34.4 535.6,34.5 536.1,34.6 536.6,35.4 537.1,34.8 537.6,34.5 538.1,35.6 538.6,35.4 539.1,34.5 539.6,35.5 540.1,35.2 540.6,35.4 541.1,35.2 541.6,35.6 542.1,35.4 542.6,35.5 543.1,34.6 543.6,35.3 544.1,35.0 544.6,35.3 545.1,34.9 545.6,35.5 546.1,35.1" fill="none" stroke="#f01010" stroke-width="1.1" stroke-linejoin="round"/>
<line x1="316.7" y1="76.5" x2="316.7" y2="83.6" stroke="#f01010" stroke-width="0.8" stroke-dasharray="1.5 0.6" opacity="0.8"/>
<line x1="331.6" y1="83.6" x2="331.6" y2="70.2" stroke="#f01010" stroke-width="0.8" stroke-dasharray="1.5 0.6" opacity="0.8"/>
<line x1="347.5" y1="70.2" x2="347.5" y2="78.8" stroke="#f01010" stroke-width="0.8" stroke-dasharray="1.5 0.6" opacity="0.8"/>
<line x1="362.4" y1="78.8" x2="362.4" y2="83.2" stroke="#f01010" stroke-width="0.8" stroke-dasharray="1.5 0.6" opacity="0.8"/>
<line x1="377.8" y1="83.2" x2="377.8" y2="72.2" stroke="#f01010" stroke-width="0.8" stroke-dasharray="1.5 0.6" opacity="0.8"/>
<line x1="393.0" y1="72.2" x2="393.0" y2="79.0" stroke="#f01010" stroke-width="0.8" stroke-dasharray="1.5 0.6" opacity="0.8"/>
<line x1="408.2" y1="79.0" x2="408.2" y2="71.7" stroke="#f01010" stroke-width="0.8" stroke-dasharray="1.5 0.6" opacity="0.8"/>
<line x1="423.3" y1="71.7" x2="423.3" y2="78.6" stroke="#f01010" stroke-width="0.8" stroke-dasharray="1.5 0.6" opacity="0.8"/>
<line x1="438.6" y1="78.6" x2="438.6" y2="72.0" stroke="#f01010" stroke-width="0.8" stroke-dasharray="1.5 0.6" opacity="0.8"/>
<line x1="454.2" y1="72.0" x2="454.2" y2="49.0" stroke="#f01010" stroke-width="0.8" stroke-dasharray="1.5 0.6" opacity="0.8"/>
<line x1="469.3" y1="49.0" x2="469.3" y2="39.6" stroke="#f01010" stroke-width="0.8" stroke-dasharray="1.5 0.6" opacity="0.8"/>
<line x1="484.8" y1="39.6" x2="484.8" y2="43.9" stroke="#f01010" stroke-width="0.8" stroke-dasharray="1.5 0.6" opacity="0.8"/>
<line x1="500.4" y1="43.9" x2="500.4" y2="46.1" stroke="#f01010" stroke-width="0.8" stroke-dasharray="1.5 0.6" opacity="0.8"/>
<line x1="530.6" y1="46.1" x2="530.6" y2="35.0" stroke="#f01010" stroke-width="0.8" stroke-dasharray="1.5 0.6" opacity="0.8"/>
<polygon points="302.2,78.30 423.5,78.30 423.5,79.90 302.2,79.90" fill="#1010f0"/>
<polyline points="302.2,78.5 302.7,78.4 303.2,78.2 303.7,79.1 304.2,78.0 304.7,79.0 305.2,78.2 305.7,79.1 306.2,79.1 306.7,79.2 307.2,80.0 307.7,77.8 308.2,80.0 308.7,79.0 309.2,79.3 309.7,79.5 310.2,80.0 310.7,78.8 311.2,78.9 311.7,80.3 312.2,78.0 312.7,79.5 313.2,79.5 313.7,77.9 314.2,79.4 314.7,79.6 315.2,80.2 315.7,78.7 316.2,80.4 316.7,79.1 317.2,79.1 317.7,80.1 318.2,77.9 318.7,79.7 319.2,79.4 319.7,78.7 320.2,80.0 320.7,78.8 321.2,79.0 321.7,79.2 322.2,79.8 322.7,78.3 323.2,78.9 323.7,78.9 324.2,79.2 324.7,79.9 325.2,78.6 325.7,80.0 326.2,78.8 326.7,79.1 327.2,78.5 327.7,79.1 328.2,80.3 328.7,79.5 329.2,79.9 329.7,78.7 330.2,78.6 330.7,78.6 331.2,79.3 331.7,79.5 332.2,79.8 332.7,77.9 333.2,79.7 333.7,80.1 334.2,79.2 334.7,77.9 335.2,78.6 335.7,77.8 336.2,78.3 336.7,80.2 337.2,79.4 337.7,79.5 338.2,79.9 338.7,80.2 339.2,79.4 339.7,79.4 340.2,79.4 340.7,79.6 341.2,79.4 341.7,79.6 342.2,78.4 342.7,79.5 343.2,79.0 343.7,79.8 344.2,78.1 344.7,78.3 345.2,77.9 345.7,79.8 346.2,80.2 346.7,79.5 347.2,78.8 347.7,79.9 348.2,79.8 348.7,79.3 349.2,78.5 349.7,78.6 350.2,78.9 350.7,78.6 351.2,78.9 351.7,79.5 352.2,80.2 352.7,77.9 353.2,79.3 353.7,77.9 354.2,78.1 354.7,79.9 355.2,79.3 355.7,80.2 356.2,79.0 356.7,77.8 357.2,78.8 357.7,79.3 358.2,80.2 358.7,80.4 359.2,79.0 359.7,78.9 360.2,78.1 360.7,79.5 361.2,78.4 361.7,78.2 362.2,77.8 362.7,77.8 363.2,79.6 363.7,78.1 364.2,80.3 364.7,78.0 365.2,80.1 365.7,78.1 366.2,77.8 366.7,79.7 367.2,78.4 367.7,79.7 368.2,78.3 368.7,77.9 369.2,79.8 369.7,79.7 370.2,80.0 370.7,79.7 371.2,78.0 371.7,79.4 372.2,79.6 372.7,79.0 373.2,80.2 373.7,78.5 374.2,80.3 374.7,79.7 375.2,77.8 375.7,77.8 376.2,79.5 376.7,79.9 377.2,78.0 377.7,78.6 378.2,79.7 378.7,78.2 379.2,80.0 379.7,79.1 380.2,78.0 380.7,78.8 381.2,79.3 381.7,78.9 382.2,79.6 382.7,78.2 383.2,79.9 383.7,78.7 384.2,79.5 384.7,79.4 385.2,78.9 385.7,78.8 386.2,79.8 386.7,80.3 387.2,79.8 387.7,79.3 388.2,78.6 388.7,78.0 389.2,80.3 389.7,79.6 390.2,80.0 390.7,78.7 391.2,79.4 391.7,80.3 392.2,80.0 392.7,79.4 393.2,78.6 393.7,78.9 394.2,80.1 394.7,78.8 395.2,79.6 395.7,79.4 396.2,80.1 396.7,79.9 397.2,78.5 397.7,77.8 398.2,78.5 398.7,78.9 399.2,79.3 399.7,79.9 400.2,80.1 400.7,77.9 401.2,80.0 401.7,79.9 402.2,80.1 402.7,79.3 403.2,78.5 403.7,80.0 404.2,79.9 404.7,79.6 405.2,80.2 405.7,78.7 406.2,78.0 406.7,79.2 407.2,79.9 407.7,78.3 408.2,79.8 408.7,80.2 409.2,78.4 409.7,79.4 410.2,79.6 410.7,79.0 411.2,78.3 411.7,78.5 412.2,79.8 412.7,79.9 413.2,79.0 413.7,78.0 414.2,79.9 414.7,79.8 415.2,78.4 415.7,79.3 416.2,80.1 416.7,80.1 417.2,79.2 417.7,79.0 418.2,79.3 418.7,78.3 419.2,78.3 419.7,78.3 420.2,79.6 420.7,78.7 421.2,79.3 421.7,78.8 422.2,79.1 422.7,78.2 423.2,77.9" fill="none" stroke="#1010f0" stroke-width="1.2" stroke-linejoin="round"/>
<line x1="423.5" y1="79.1" x2="423.5" y2="43.5" stroke="#4a4aff" stroke-width="0.9" stroke-dasharray="1.2 0.8" opacity="0.75"/>
<polygon points="423.5,42.70 546.2,43.60 546.2,45.20 423.5,44.30" fill="#1010f0"/>
<polyline points="423.5,44.8 424.0,43.2 424.5,42.5 425.0,43.9 425.5,44.3 426.0,42.6 426.5,43.8 427.0,43.1 427.5,43.6 428.0,42.3 428.5,42.3 429.0,44.8 429.5,44.5 430.0,43.5 430.5,43.7 431.0,42.9 431.5,44.3 432.0,43.4 432.5,44.7 433.0,44.3 433.5,44.4 434.0,44.8 434.5,42.9 435.0,42.4 435.5,42.8 436.0,42.8 436.5,42.5 437.0,42.4 437.5,43.8 438.0,44.6 438.5,43.5 439.0,44.8 439.5,44.7 440.0,42.5 440.5,43.9 441.0,43.4 441.5,42.6 442.0,44.8 442.5,43.0 443.0,43.8 443.5,44.0 444.0,44.8 444.5,44.1 445.0,43.4 445.5,43.5 446.0,42.8 446.5,44.9 447.0,45.0 447.5,43.0 448.0,42.5 448.5,43.0 449.0,43.3 449.5,44.7 450.0,44.7 450.5,44.6 451.0,42.5 451.5,44.4 452.0,44.3 452.5,44.1 453.0,45.0 453.5,42.6 454.0,42.8 454.5,44.4 455.0,44.9 455.5,44.2 456.0,43.2 456.5,44.0 457.0,44.4 457.5,42.7 458.0,43.3 458.5,43.1 459.0,42.8 459.5,43.7 460.0,42.9 460.5,43.1 461.0,42.8 461.5,44.2 462.0,42.5 462.5,44.4 463.0,43.0 463.5,42.6 464.0,44.9 464.5,43.1 465.0,44.9 465.5,44.8 466.0,44.8 466.5,42.9 467.0,43.7 467.5,42.8 468.0,44.9 468.5,44.7 469.0,44.2 469.5,43.7 470.0,43.4 470.5,44.7 471.0,43.8 471.5,44.2 472.0,42.9 472.5,43.1 473.0,42.7 473.5,44.4 474.0,44.0 474.5,43.0 475.0,44.8 475.5,43.3 476.0,43.7 476.5,43.0 477.0,43.3 477.5,44.8 478.0,43.5 478.5,43.0 479.0,43.9 479.5,43.4 480.0,45.0 480.5,42.9 481.0,45.2 481.5,42.8 482.0,45.0 482.5,44.4 483.0,43.2 483.5,43.9 484.0,43.4 484.5,43.3 485.0,43.2 485.5,43.6 486.0,45.2 486.5,45.3 487.0,45.1 487.5,42.9 488.0,43.4 488.5,45.0 489.0,42.8 489.5,44.6 490.0,43.5 490.5,45.2 491.0,42.7 491.5,44.8 492.0,43.6 492.5,43.1 493.0,42.7 493.5,44.9 494.0,44.1 494.5,43.2 495.0,43.9 495.5,45.1 496.0,43.3 496.5,44.2 497.0,43.1 497.5,43.2 498.0,44.7 498.5,44.6 499.0,43.3 499.5,43.0 500.0,43.0 500.5,44.3 501.0,44.1 501.5,43.5 502.0,43.3 502.5,44.4 503.0,44.6 503.5,44.9 504.0,44.3 504.5,43.3 505.0,43.0 505.5,44.7 506.0,43.9 506.5,44.7 507.0,43.0 507.5,44.9 508.0,43.7 508.5,45.0 509.0,45.1 509.5,44.1 510.0,42.9 510.5,45.2 511.0,44.1 511.5,45.1 512.0,43.5 512.5,43.3 513.0,45.0 513.5,43.8 514.0,43.3 514.5,43.8 515.0,44.4 515.5,42.9 516.0,44.2 516.5,44.0 517.0,44.2 517.5,43.2 518.0,44.8 518.5,45.0 519.0,45.2 519.5,43.7 520.0,44.8 520.5,43.9 521.0,44.9 521.5,43.1 522.0,45.2 522.5,45.4 523.0,44.2 523.5,44.3 524.0,44.3 524.5,44.3 525.0,43.0 525.5,45.5 526.0,43.5 526.5,43.4 527.0,43.2 527.5,43.6 528.0,45.1 528.5,43.0 529.0,43.2 529.5,44.8 530.0,43.5 530.5,43.0 531.0,44.5 531.5,44.5 532.0,44.4 532.5,44.8 533.0,43.3 533.5,45.3 534.0,44.9 534.5,43.1 535.0,43.3 535.5,44.3 536.0,44.3 536.5,43.8 537.0,43.3 537.5,44.1 538.0,43.4 538.5,44.6 539.0,45.3 539.5,43.4 540.0,44.5 540.5,45.0 541.0,43.5 541.5,45.2 542.0,45.5 542.5,44.1 543.0,44.2 543.5,45.3 544.0,44.5 544.5,44.1 545.0,45.5 545.5,45.1 546.0,44.0" fill="none" stroke="#1010f0" stroke-width="1.2" stroke-linejoin="round"/>
<rect x="302.2" y="5.4" width="244.0" height="109.6" fill="none" stroke="#585858" stroke-width="1.15"/>
<line x1="298.6" y1="79.0" x2="302.7" y2="79.0" stroke="#000" stroke-width="1.8"/>
<line x1="304.5" y1="106.6" x2="361.2" y2="106.6" stroke="#111" stroke-width="1.2"/>
<path d="M302.5,106.6 l4.5,-2.2 l0,4.4 z M363.2,106.6 l-4.5,-2.2 l0,4.4 z" fill="#111"/>
<line x1="223.8" y1="131.6" x2="223.8" y2="241.2" stroke="#a0a0a0" stroke-width="0.9" stroke-dasharray="1 1.2"/>
<line x1="345.8" y1="131.6" x2="345.8" y2="241.2" stroke="#a0a0a0" stroke-width="0.9" stroke-dasharray="1 1.2"/>
<line x1="162.8" y1="168.1" x2="406.8" y2="168.1" stroke="#a0a0a0" stroke-width="0.9" stroke-dasharray="1 1.2"/>
<line x1="284.8" y1="131.6" x2="284.8" y2="241.2" stroke="#c29aae" stroke-width="0.85" stroke-dasharray="1.4 0.8"/>
<line x1="162.8" y1="204.7" x2="406.8" y2="204.7" stroke="#c29aae" stroke-width="0.85" stroke-dasharray="1.4 0.8"/>
<line x1="283.5" y1="138.9" x2="286.1" y2="138.9" stroke="#6a5a66" stroke-width="1.1"/>
<line x1="283.5" y1="146.2" x2="286.1" y2="146.2" stroke="#6a5a66" stroke-width="1.1"/>
<line x1="283.5" y1="153.5" x2="286.1" y2="153.5" stroke="#6a5a66" stroke-width="1.1"/>
<line x1="283.5" y1="160.8" x2="286.1" y2="160.8" stroke="#6a5a66" stroke-width="1.1"/>
<line x1="283.5" y1="168.1" x2="286.1" y2="168.1" stroke="#6a5a66" stroke-width="1.1"/>
<line x1="283.5" y1="175.4" x2="286.1" y2="175.4" stroke="#6a5a66" stroke-width="1.1"/>
<line x1="283.5" y1="182.7" x2="286.1" y2="182.7" stroke="#6a5a66" stroke-width="1.1"/>
<line x1="283.5" y1="190.1" x2="286.1" y2="190.1" stroke="#6a5a66" stroke-width="1.1"/>
<line x1="283.5" y1="197.4" x2="286.1" y2="197.4" stroke="#6a5a66" stroke-width="1.1"/>
<line x1="283.5" y1="212.0" x2="286.1" y2="212.0" stroke="#6a5a66" stroke-width="1.1"/>
<line x1="283.5" y1="219.3" x2="286.1" y2="219.3" stroke="#6a5a66" stroke-width="1.1"/>
<line x1="283.5" y1="226.6" x2="286.1" y2="226.6" stroke="#6a5a66" stroke-width="1.1"/>
<line x1="283.5" y1="233.9" x2="286.1" y2="233.9" stroke="#6a5a66" stroke-width="1.1"/>
<line x1="175.0" y1="203.4" x2="175.0" y2="206.0" stroke="#6a5a66" stroke-width="1.1"/>
<line x1="187.2" y1="203.4" x2="187.2" y2="206.0" stroke="#6a5a66" stroke-width="1.1"/>
<line x1="199.4" y1="203.4" x2="199.4" y2="206.0" stroke="#6a5a66" stroke-width="1.1"/>
<line x1="211.6" y1="203.4" x2="211.6" y2="206.0" stroke="#6a5a66" stroke-width="1.1"/>
<line x1="223.8" y1="203.4" x2="223.8" y2="206.0" stroke="#6a5a66" stroke-width="1.1"/>
<line x1="236.0" y1="203.4" x2="236.0" y2="206.0" stroke="#6a5a66" stroke-width="1.1"/>
<line x1="248.2" y1="203.4" x2="248.2" y2="206.0" stroke="#6a5a66" stroke-width="1.1"/>
<line x1="260.4" y1="203.4" x2="260.4" y2="206.0" stroke="#6a5a66" stroke-width="1.1"/>
<line x1="272.6" y1="203.4" x2="272.6" y2="206.0" stroke="#6a5a66" stroke-width="1.1"/>
<line x1="297.0" y1="203.4" x2="297.0" y2="206.0" stroke="#6a5a66" stroke-width="1.1"/>
<line x1="309.2" y1="203.4" x2="309.2" y2="206.0" stroke="#6a5a66" stroke-width="1.1"/>
<line x1="321.4" y1="203.4" x2="321.4" y2="206.0" stroke="#6a5a66" stroke-width="1.1"/>
<line x1="333.6" y1="203.4" x2="333.6" y2="206.0" stroke="#6a5a66" stroke-width="1.1"/>
<line x1="345.8" y1="203.4" x2="345.8" y2="206.0" stroke="#6a5a66" stroke-width="1.1"/>
<line x1="358.0" y1="203.4" x2="358.0" y2="206.0" stroke="#6a5a66" stroke-width="1.1"/>
<line x1="370.2" y1="203.4" x2="370.2" y2="206.0" stroke="#6a5a66" stroke-width="1.1"/>
<line x1="382.4" y1="203.4" x2="382.4" y2="206.0" stroke="#6a5a66" stroke-width="1.1"/>
<line x1="394.6" y1="203.4" x2="394.6" y2="206.0" stroke="#6a5a66" stroke-width="1.1"/>
<line x1="162.8" y1="169.5" x2="284.3" y2="169.5" stroke="#2fc47e" stroke-width="1.25" stroke-dasharray="4.7 2.5"/>
<polygon points="162.8,193.30 192.1,194.20 192.1,196.00 162.8,195.10" fill="#f01010"/>
<polyline points="162.8,193.8 163.3,194.0 163.8,194.1 164.3,194.9 164.8,194.7 165.3,194.9 165.8,194.7 166.3,194.8 166.8,193.7 167.3,194.4 167.8,195.0 168.3,195.0 168.8,194.0 169.3,194.3 169.8,194.6 170.3,194.2 170.8,194.5 171.3,193.9 171.8,194.4 172.3,194.5 172.8,193.8 173.3,194.0 173.8,195.2 174.3,194.9 174.8,195.2 175.3,194.8 175.8,195.0 176.3,195.2 176.8,195.2 177.3,194.0 177.8,194.9 178.3,194.3 178.8,194.9 179.3,194.4 179.8,194.8 180.3,195.3 180.8,194.9 181.3,194.4 181.8,194.8 182.3,194.7 182.8,195.4 183.3,194.5 183.8,194.6 184.3,195.1 184.8,194.3 185.3,195.0 185.8,195.5 186.3,194.9 186.8,194.6 187.3,194.9 187.8,195.0 188.3,194.5 188.8,194.5 189.3,194.5 189.8,194.7 190.3,194.9 190.8,194.8 191.3,194.7 191.8,194.5" fill="none" stroke="#f01010" stroke-width="1.1" stroke-linejoin="round"/>
<polygon points="192.1,191.10 207.6,191.10 207.6,192.90 192.1,192.90" fill="#f01010"/>
<polyline points="192.1,192.1 192.6,192.5 193.1,192.2 193.6,192.1 194.1,192.2 194.6,191.6 195.1,192.3 195.6,191.9 196.1,192.1 196.6,192.2 197.1,192.0 197.6,191.7 198.1,191.6 198.6,191.6 199.1,192.0 199.6,191.8 200.1,192.1 200.6,191.3 201.1,191.8 201.6,192.5 202.1,191.6 202.6,192.1 203.1,192.0 203.6,191.7 204.1,192.7 204.6,191.7 205.1,192.4 205.6,191.5 206.1,191.4 206.6,192.5 207.1,191.9 207.6,191.4" fill="none" stroke="#f01010" stroke-width="1.1" stroke-linejoin="round"/>
<polygon points="207.6,188.00 222.9,188.00 222.9,189.80 207.6,189.80" fill="#f01010"/>
<polyline points="207.6,188.7 208.1,188.8 208.6,189.2 209.1,188.4 209.6,188.5 210.1,189.5 210.6,189.2 211.1,188.4 211.6,188.7 212.1,188.7 212.6,189.1 213.1,189.1 213.6,189.4 214.1,189.3 214.6,188.9 215.1,189.2 215.6,189.2 216.1,189.3 216.6,188.9 217.1,189.3 217.6,189.2 218.1,189.5 218.6,188.4 219.1,189.4 219.6,188.2 220.1,189.3 220.6,189.0 221.1,188.9 221.6,189.5 222.1,189.0 222.6,188.8" fill="none" stroke="#f01010" stroke-width="1.1" stroke-linejoin="round"/>
<polygon points="222.9,209.20 238.5,209.20 238.5,211.00 222.9,211.00" fill="#f01010"/>
<polyline points="222.9,210.5 223.4,210.6 223.9,210.3 224.4,209.9 224.9,210.0 225.4,210.0 225.9,210.4 226.4,209.8 226.9,209.9 227.4,210.2 227.9,209.9 228.4,209.9 228.9,210.5 229.4,210.6 229.9,210.1 230.4,210.0 230.9,209.7 231.4,209.8 231.9,209.6 232.4,210.2 232.9,210.2 233.4,209.5 233.9,210.7 234.4,209.9 234.9,210.6 235.4,210.6 235.9,210.7 236.4,209.7 236.9,210.0 237.4,210.7 237.9,209.4 238.4,209.5" fill="none" stroke="#f01010" stroke-width="1.1" stroke-linejoin="round"/>
<polygon points="238.5,204.10 253.2,204.10 253.2,205.90 238.5,205.90" fill="#f01010"/>
<polyline points="238.5,205.1 239.0,205.0 239.5,205.6 240.0,205.4 240.5,205.1 241.0,205.7 241.5,205.0 242.0,205.0 242.5,205.3 243.0,204.8 243.5,204.8 244.0,205.1 244.5,204.8 245.0,205.6 245.5,205.2 246.0,205.0 246.5,204.4 247.0,204.8 247.5,204.9 248.0,205.1 248.5,205.1 249.0,205.5 249.5,205.7 250.0,205.0 250.5,204.9 251.0,205.2 251.5,205.7 252.0,204.8 252.5,205.0 253.0,205.4" fill="none" stroke="#f01010" stroke-width="1.1" stroke-linejoin="round"/>
<polygon points="253.2,198.00 268.7,198.00 268.7,199.80 253.2,199.80" fill="#f01010"/>
<polyline points="253.2,198.4 253.7,198.6 254.2,199.6 254.7,199.4 255.2,198.9 255.7,198.4 256.2,199.5 256.7,199.2 257.2,199.3 257.7,199.6 258.2,199.4 258.7,198.8 259.2,198.4 259.7,198.6 260.2,198.9 260.7,198.9 261.2,198.5 261.7,198.5 262.2,199.1 262.7,199.0 263.2,198.7 263.7,199.6 264.2,199.1 264.7,198.3 265.2,198.8 265.7,199.3 266.2,198.6 266.7,199.2 267.2,198.2 267.7,198.6 268.2,199.4 268.7,199.0" fill="none" stroke="#f01010" stroke-width="1.1" stroke-linejoin="round"/>
<polygon points="268.7,194.20 283.7,194.20 283.7,196.00 268.7,196.00" fill="#f01010"/>
<polyline points="268.7,195.3 269.2,194.7 269.7,195.1 270.2,195.2 270.7,194.8 271.2,195.3 271.7,195.1 272.2,195.8 272.7,195.2 273.2,195.0 273.7,194.6 274.2,194.6 274.7,195.5 275.2,194.5 275.7,194.5 276.2,194.6 276.7,195.1 277.2,195.6 277.7,195.3 278.2,195.5 278.7,194.5 279.2,194.4 279.7,195.5 280.2,194.9 280.7,195.4 281.2,194.9 281.7,194.6 282.2,194.8 282.7,194.5 283.2,195.7 283.7,195.2" fill="none" stroke="#f01010" stroke-width="1.1" stroke-linejoin="round"/>
<polygon points="283.9,216.10 299.3,216.10 299.3,217.90 283.9,217.90" fill="#f01010"/>
<polyline points="283.9,216.8 284.4,216.9 284.9,216.8 285.4,216.4 285.9,217.5 286.4,217.1 286.9,217.6 287.4,216.9 287.9,217.2 288.4,216.6 288.9,216.4 289.4,217.6 289.9,217.5 290.4,216.7 290.9,217.6 291.4,217.4 291.9,216.7 292.4,217.1 292.9,217.6 293.4,217.0 293.9,217.6 294.4,216.6 294.9,216.8 295.4,217.3 295.9,216.6 296.4,216.7 296.9,217.5 297.4,217.0 297.9,217.4 298.4,216.6 298.9,216.5" fill="none" stroke="#f01010" stroke-width="1.1" stroke-linejoin="round"/>
<polygon points="299.3,210.70 314.8,210.70 314.8,212.50 299.3,212.50" fill="#f01010"/>
<polyline points="299.3,211.4 299.8,211.2 300.3,212.3 300.8,211.3 301.3,211.7 301.8,211.1 302.3,211.6 302.8,211.4 303.3,211.5 303.8,211.0 304.3,211.1 304.8,212.1 305.3,211.4 305.8,211.2 306.3,211.2 306.8,211.3 307.3,211.2 307.8,210.9 308.3,211.8 308.8,211.4 309.3,211.1 309.8,211.9 310.3,211.0 310.8,211.3 311.3,212.1 311.8,211.1 312.3,211.5 312.8,212.1 313.3,212.0 313.8,211.1 314.3,211.4 314.8,211.9" fill="none" stroke="#f01010" stroke-width="1.1" stroke-linejoin="round"/>
<polygon points="314.8,176.30 330.3,176.30 330.3,178.10 314.8,178.10" fill="#f01010"/>
<polyline points="314.8,177.0 315.3,177.8 315.8,176.8 316.3,177.8 316.8,177.2 317.3,176.8 317.8,177.1 318.3,176.7 318.8,177.5 319.3,176.9 319.8,177.8 320.3,177.3 320.8,177.0 321.3,176.8 321.8,177.4 322.3,176.8 322.8,177.7 323.3,176.7 323.8,177.2 324.3,177.3 324.8,176.9 325.3,177.6 325.8,177.0 326.3,177.4 326.8,177.3 327.3,176.9 327.8,177.0 328.3,176.6 328.8,176.7 329.3,177.7 329.8,176.9 330.3,177.4" fill="none" stroke="#f01010" stroke-width="1.1" stroke-linejoin="round"/>
<polygon points="330.3,178.70 345.1,178.70 345.1,180.50 330.3,180.50" fill="#f01010"/>
<polyline points="330.3,179.1 330.8,179.7 331.3,179.4 331.8,179.6 332.3,179.3 332.8,179.0 333.3,179.3 333.8,179.2 334.3,179.1 334.8,179.9 335.3,179.3 335.8,179.5 336.3,180.2 336.8,180.0 337.3,180.1 337.8,180.1 338.3,179.1 338.8,179.3 339.3,178.9 339.8,179.9 340.3,179.8 340.8,179.4 341.3,179.5 341.8,179.8 342.3,179.9 342.8,179.2 343.3,180.1 343.8,179.4 344.3,179.8 344.8,179.2" fill="none" stroke="#f01010" stroke-width="1.1" stroke-linejoin="round"/>
<polygon points="345.1,167.50 360.8,167.50 360.8,169.30 345.1,169.30" fill="#f01010"/>
<polyline points="345.1,167.9 345.6,169.0 346.1,168.7 346.6,168.7 347.1,167.8 347.6,167.8 348.1,167.9 348.6,168.0 349.1,168.1 349.6,168.2 350.1,167.8 350.6,168.1 351.1,168.6 351.6,168.0 352.1,168.9 352.6,168.5 353.1,168.7 353.6,168.1 354.1,168.3 354.6,168.7 355.1,168.2 355.6,167.7 356.1,168.9 356.6,168.8 357.1,168.1 357.6,167.8 358.1,168.9 358.6,168.6 359.1,167.8 359.6,168.0 360.1,167.9 360.6,168.8" fill="none" stroke="#f01010" stroke-width="1.1" stroke-linejoin="round"/>
<polygon points="360.8,171.00 375.6,171.00 375.6,172.80 360.8,172.80" fill="#f01010"/>
<polyline points="360.8,171.5 361.3,172.5 361.8,172.2 362.3,171.3 362.8,172.2 363.3,171.8 363.8,172.2 364.3,172.4 364.8,171.6 365.3,171.3 365.8,172.5 366.3,171.8 366.8,172.5 367.3,172.2 367.8,172.2 368.3,172.4 368.8,172.1 369.3,171.8 369.8,171.3 370.3,172.2 370.8,171.8 371.3,171.9 371.8,172.5 372.3,171.4 372.8,172.3 373.3,171.3 373.8,172.2 374.3,172.3 374.8,171.6 375.3,172.0" fill="none" stroke="#f01010" stroke-width="1.1" stroke-linejoin="round"/>
<polygon points="375.6,159.80 391.2,159.80 391.2,161.60 375.6,161.60" fill="#f01010"/>
<polyline points="375.6,161.4 376.1,160.9 376.6,160.8 377.1,160.3 377.6,160.1 378.1,160.5 378.6,160.6 379.1,160.3 379.6,160.4 380.1,160.2 380.6,161.0 381.1,160.9 381.6,160.3 382.1,160.3 382.6,160.7 383.1,160.6 383.6,161.3 384.1,160.5 384.6,160.4 385.1,161.2 385.6,160.2 386.1,160.8 386.6,160.5 387.1,161.1 387.6,160.8 388.1,161.1 388.6,160.2 389.1,160.9 389.6,160.8 390.1,160.6 390.6,161.1 391.1,161.2" fill="none" stroke="#f01010" stroke-width="1.1" stroke-linejoin="round"/>
<polygon points="391.2,175.40 406.8,175.40 406.8,177.20 391.2,177.20" fill="#f01010"/>
<polyline points="391.2,175.8 391.7,176.0 392.2,176.1 392.7,175.9 393.2,175.7 393.7,176.0 394.2,175.9 394.7,176.6 395.2,176.2 395.7,175.8 396.2,176.1 396.7,176.3 397.2,176.1 397.7,175.8 398.2,175.7 398.7,175.6 399.2,177.0 399.7,176.7 400.2,175.7 400.7,176.6 401.2,177.0 401.7,176.4 402.2,175.8 402.7,176.3 403.2,176.2 403.7,175.9 404.2,176.4 404.7,175.6 405.2,176.9 405.7,176.5 406.2,176.5 406.7,176.9" fill="none" stroke="#f01010" stroke-width="1.1" stroke-linejoin="round"/>
<line x1="192.1" y1="195.0" x2="192.1" y2="192.0" stroke="#f01010" stroke-width="0.8" stroke-dasharray="1.5 0.6" opacity="0.8"/>
<line x1="207.6" y1="192.0" x2="207.6" y2="188.9" stroke="#f01010" stroke-width="0.8" stroke-dasharray="1.5 0.6" opacity="0.8"/>
<line x1="222.9" y1="188.9" x2="222.9" y2="210.1" stroke="#f01010" stroke-width="0.8" stroke-dasharray="1.5 0.6" opacity="0.8"/>
<line x1="238.5" y1="210.1" x2="238.5" y2="205.0" stroke="#f01010" stroke-width="0.8" stroke-dasharray="1.5 0.6" opacity="0.8"/>
<line x1="253.2" y1="205.0" x2="253.2" y2="198.9" stroke="#f01010" stroke-width="0.8" stroke-dasharray="1.5 0.6" opacity="0.8"/>
<line x1="268.7" y1="198.9" x2="268.7" y2="195.1" stroke="#f01010" stroke-width="0.8" stroke-dasharray="1.5 0.6" opacity="0.8"/>
<line x1="283.9" y1="195.1" x2="283.9" y2="217.0" stroke="#f01010" stroke-width="0.8" stroke-dasharray="1.5 0.6" opacity="0.8"/>
<line x1="299.3" y1="217.0" x2="299.3" y2="211.6" stroke="#f01010" stroke-width="0.8" stroke-dasharray="1.5 0.6" opacity="0.8"/>
<line x1="314.8" y1="211.6" x2="314.8" y2="177.2" stroke="#f01010" stroke-width="0.8" stroke-dasharray="1.5 0.6" opacity="0.8"/>
<line x1="330.3" y1="177.2" x2="330.3" y2="179.6" stroke="#f01010" stroke-width="0.8" stroke-dasharray="1.5 0.6" opacity="0.8"/>
<line x1="345.1" y1="179.6" x2="345.1" y2="168.4" stroke="#f01010" stroke-width="0.8" stroke-dasharray="1.5 0.6" opacity="0.8"/>
<line x1="360.8" y1="168.4" x2="360.8" y2="171.9" stroke="#f01010" stroke-width="0.8" stroke-dasharray="1.5 0.6" opacity="0.8"/>
<line x1="375.6" y1="171.9" x2="375.6" y2="160.7" stroke="#f01010" stroke-width="0.8" stroke-dasharray="1.5 0.6" opacity="0.8"/>
<line x1="391.2" y1="160.7" x2="391.2" y2="176.3" stroke="#f01010" stroke-width="0.8" stroke-dasharray="1.5 0.6" opacity="0.8"/>
<polygon points="162.8,204.40 284.3,204.40 284.3,206.00 162.8,206.00" fill="#1010f0"/>
<polyline points="162.8,205.6 163.3,204.6 163.8,204.5 164.3,204.3 164.8,204.0 165.3,205.9 165.8,206.1 166.3,204.7 166.8,204.4 167.3,205.6 167.8,206.1 168.3,206.3 168.8,204.3 169.3,205.9 169.8,206.1 170.3,205.8 170.8,204.7 171.3,204.4 171.8,206.0 172.3,204.7 172.8,204.9 173.3,205.3 173.8,204.9 174.3,206.1 174.8,204.5 175.3,204.0 175.8,205.4 176.3,205.5 176.8,206.0 177.3,205.7 177.8,206.3 178.3,206.4 178.8,205.2 179.3,205.2 179.8,204.3 180.3,204.7 180.8,205.4 181.3,204.1 181.8,205.7 182.3,204.3 182.8,205.1 183.3,206.4 183.8,204.1 184.3,204.0 184.8,205.0 185.3,204.4 185.8,205.8 186.3,203.9 186.8,206.1 187.3,206.1 187.8,205.9 188.3,205.0 188.8,204.6 189.3,205.6 189.8,205.2 190.3,205.0 190.8,204.8 191.3,205.0 191.8,205.6 192.3,206.0 192.8,206.3 193.3,204.3 193.8,204.7 194.3,205.1 194.8,205.4 195.3,204.8 195.8,204.4 196.3,204.1 196.8,204.7 197.3,205.1 197.8,206.4 198.3,206.3 198.8,206.2 199.3,206.4 199.8,206.4 200.3,205.5 200.8,206.0 201.3,204.1 201.8,205.7 202.3,205.5 202.8,204.7 203.3,205.4 203.8,206.4 204.3,205.1 204.8,205.6 205.3,204.7 205.8,204.8 206.3,206.2 206.8,204.0 207.3,204.4 207.8,205.7 208.3,205.1 208.8,204.1 209.3,205.6 209.8,204.9 210.3,205.4 210.8,205.0 211.3,205.3 211.8,205.4 212.3,204.9 212.8,204.2 213.3,204.4 213.8,206.2 214.3,205.3 214.8,204.2 215.3,206.1 215.8,204.6 216.3,204.1 216.8,205.3 217.3,204.6 217.8,205.2 218.3,205.3 218.8,204.5 219.3,205.4 219.8,204.2 220.3,205.2 220.8,205.4 221.3,204.1 221.8,205.0 222.3,204.1 222.8,205.0 223.3,206.1 223.8,205.3 224.3,205.8 224.8,205.9 225.3,204.2 225.8,206.5 226.3,205.8 226.8,204.2 227.3,206.1 227.8,204.9 228.3,204.3 228.8,206.4 229.3,205.4 229.8,205.9 230.3,204.3 230.8,205.9 231.3,204.0 231.8,204.5 232.3,204.9 232.8,203.9 233.3,205.4 233.8,204.5 234.3,204.7 234.8,205.7 235.3,205.0 235.8,206.2 236.3,205.5 236.8,206.2 237.3,205.4 237.8,206.3 238.3,206.2 238.8,204.3 239.3,205.8 239.8,204.8 240.3,205.9 240.8,205.7 241.3,206.0 241.8,204.2 242.3,204.9 242.8,205.8 243.3,206.4 243.8,205.8 244.3,204.0 244.8,205.5 245.3,204.2 245.8,205.3 246.3,206.0 246.8,204.2 247.3,206.3 247.8,205.7 248.3,204.6 248.8,204.4 249.3,205.1 249.8,206.1 250.3,205.4 250.8,204.2 251.3,204.0 251.8,204.2 252.3,206.0 252.8,204.4 253.3,205.3 253.8,204.7 254.3,205.7 254.8,204.9 255.3,204.3 255.8,206.2 256.3,205.3 256.8,205.7 257.3,206.0 257.8,206.4 258.3,203.9 258.8,204.8 259.3,204.3 259.8,205.2 260.3,206.2 260.8,206.0 261.3,204.0 261.8,204.4 262.3,206.0 262.8,205.7 263.3,204.9 263.8,205.1 264.3,204.3 264.8,206.1 265.3,204.9 265.8,206.2 266.3,205.5 266.8,204.1 267.3,204.8 267.8,204.5 268.3,206.2 268.8,205.4 269.3,204.0 269.8,204.3 270.3,204.8 270.8,205.1 271.3,205.4 271.8,204.9 272.3,204.8 272.8,203.9 273.3,205.4 273.8,204.8 274.3,204.0 274.8,205.1 275.3,206.5 275.8,204.0 276.3,204.3 276.8,205.6 277.3,204.6 277.8,204.6 278.3,205.2 278.8,204.6 279.3,205.4 279.8,205.3 280.3,206.4 280.8,206.5 281.3,204.0 281.8,205.4 282.3,205.9 282.8,206.2 283.3,205.9 283.8,205.5 284.3,205.6" fill="none" stroke="#1010f0" stroke-width="1.2" stroke-linejoin="round"/>
<line x1="284.3" y1="205.2" x2="284.3" y2="170.3" stroke="#4a4aff" stroke-width="0.9" stroke-dasharray="1.2 0.8" opacity="0.75"/>
<polygon points="284.3,169.50 406.8,169.50 406.8,171.10 284.3,171.10" fill="#1010f0"/>
<polyline points="284.3,169.9 284.8,169.7 285.3,171.1 285.8,171.3 286.3,171.4 286.8,170.8 287.3,169.8 287.8,171.0 288.3,170.9 288.8,170.3 289.3,170.7 289.8,169.9 290.3,170.4 290.8,170.1 291.3,169.2 291.8,169.9 292.3,169.8 292.8,171.6 293.3,170.3 293.8,170.0 294.3,169.6 294.8,169.6 295.3,169.9 295.8,169.4 296.3,169.0 296.8,171.3 297.3,170.2 297.8,170.2 298.3,170.5 298.8,169.8 299.3,169.4 299.8,169.2 300.3,169.8 300.8,169.8 301.3,170.9 301.8,170.4 302.3,171.4 302.8,169.9 303.3,171.4 303.8,170.5 304.3,169.2 304.8,169.5 305.3,170.5 305.8,171.6 306.3,169.9 306.8,171.0 307.3,170.1 307.8,171.3 308.3,169.2 308.8,170.3 309.3,171.3 309.8,169.7 310.3,169.7 310.8,169.1 311.3,169.4 311.8,169.7 312.3,170.8 312.8,169.6 313.3,170.0 313.8,169.5 314.3,170.6 314.8,171.2 315.3,170.7 315.8,169.5 316.3,170.9 316.8,171.5 317.3,170.6 317.8,169.2 318.3,171.1 318.8,171.3 319.3,169.9 319.8,169.4 320.3,169.5 320.8,170.4 321.3,171.3 321.8,170.7 322.3,171.4 322.8,169.6 323.3,169.8 323.8,170.9 324.3,170.7 324.8,170.1 325.3,170.8 325.8,169.9 326.3,169.1 326.8,170.1 327.3,169.1 327.8,170.6 328.3,169.9 328.8,170.3 329.3,170.6 329.8,169.7 330.3,170.2 330.8,169.0 331.3,171.4 331.8,170.5 332.3,171.6 332.8,169.1 333.3,170.6 333.8,170.9 334.3,169.9 334.8,169.2 335.3,169.4 335.8,169.4 336.3,171.0 336.8,169.2 337.3,171.1 337.8,170.1 338.3,170.4 338.8,170.5 339.3,170.4 339.8,170.7 340.3,170.6 340.8,169.9 341.3,170.9 341.8,169.7 342.3,170.8 342.8,171.0 343.3,171.0 343.8,169.8 344.3,171.0 344.8,171.5 345.3,170.2 345.8,169.7 346.3,170.4 346.8,171.4 347.3,169.3 347.8,169.0 348.3,170.2 348.8,170.7 349.3,171.0 349.8,169.9 350.3,171.6 350.8,169.6 351.3,171.0 351.8,169.2 352.3,169.1 352.8,169.3 353.3,169.2 353.8,170.3 354.3,170.4 354.8,169.5 355.3,171.4 355.8,170.0 356.3,169.4 356.8,169.5 357.3,170.9 357.8,171.4 358.3,169.4 358.8,169.1 359.3,171.0 359.8,169.6 360.3,171.6 360.8,170.3 361.3,170.7 361.8,169.9 362.3,171.1 362.8,170.2 363.3,169.8 363.8,171.3 364.3,169.3 364.8,170.9 365.3,169.2 365.8,170.7 366.3,170.0 366.8,171.2 367.3,169.2 367.8,170.5 368.3,170.1 368.8,171.4 369.3,171.5 369.8,170.6 370.3,169.6 370.8,169.7 371.3,169.7 371.8,170.1 372.3,169.6 372.8,169.5 373.3,171.0 373.8,170.7 374.3,169.8 374.8,171.6 375.3,169.6 375.8,170.5 376.3,169.4 376.8,171.2 377.3,171.3 377.8,169.7 378.3,171.0 378.8,171.1 379.3,169.7 379.8,169.9 380.3,170.3 380.8,171.3 381.3,169.4 381.8,170.8 382.3,170.6 382.8,170.2 383.3,170.5 383.8,171.3 384.3,169.5 384.8,171.3 385.3,169.9 385.8,171.0 386.3,171.2 386.8,169.5 387.3,171.2 387.8,171.6 388.3,169.8 388.8,169.1 389.3,169.3 389.8,171.5 390.3,169.0 390.8,171.4 391.3,169.4 391.8,170.9 392.3,169.3 392.8,169.4 393.3,170.8 393.8,169.2 394.3,169.9 394.8,171.4 395.3,170.9 395.8,171.3 396.3,171.5 396.8,169.1 397.3,169.6 397.8,171.1 398.3,170.8 398.8,169.1 399.3,170.3 399.8,169.6 400.3,170.1 400.8,169.3 401.3,169.1 401.8,171.6 402.3,169.8 402.8,171.3 403.3,169.3 403.8,170.3 404.3,169.4 404.8,170.1 405.3,169.5 405.8,170.8 406.3,169.4 406.8,170.9" fill="none" stroke="#1010f0" stroke-width="1.2" stroke-linejoin="round"/>
<rect x="162.8" y="131.6" width="244.0" height="109.6" fill="none" stroke="#585858" stroke-width="1.15"/>
<line x1="159.2" y1="205.2" x2="163.3" y2="205.2" stroke="#000" stroke-width="1.8"/>
<line x1="165.1" y1="232.9" x2="221.8" y2="232.9" stroke="#111" stroke-width="1.2"/>
<path d="M163.1,232.9 l4.5,-2.2 l0,4.4 z M223.8,232.9 l-4.5,-2.2 l0,4.4 z" fill="#111"/>
<line x1="161.2" y1="31.2" x2="155.7" y2="36.8" stroke="#111" stroke-width="1.2"/>
<path d="M152.9,39.6 L154.4,35.4 L157.1,38.1 z" fill="#111"/>
<line x1="183.5" y1="88.5" x2="178.8" y2="83.6" stroke="#111" stroke-width="1.2"/>
<path d="M176.0,80.7 L180.1,82.3 L177.4,84.9 z" fill="#111"/>
<line x1="440.0" y1="32.0" x2="434.0" y2="37.1" stroke="#111" stroke-width="1.2"/>
<path d="M431.0,39.7 L432.8,35.7 L435.3,38.5 z" fill="#111"/>
<line x1="462.2" y1="87.8" x2="452.8" y2="78.5" stroke="#111" stroke-width="1.2"/>
<path d="M449.9,75.7 L454.1,77.2 L451.4,79.9 z" fill="#111"/>
<line x1="300.8" y1="157.4" x2="295.1" y2="163.0" stroke="#111" stroke-width="1.2"/>
<path d="M292.3,165.8 L293.8,161.6 L296.5,164.3 z" fill="#111"/>
<line x1="322.5" y1="213.2" x2="318.2" y2="209.4" stroke="#111" stroke-width="1.2"/>
<path d="M315.2,206.7 L319.5,207.9 L316.9,210.8 z" fill="#111"/>
<text x="2.9" y="46.2" font-size="10.6" font-weight="bold" font-style="normal" fill="#1ab862" text-anchor="start" word-spacing="0.6">2 A</text>
<text x="2.9" y="81.1" font-size="10.6" font-weight="bold" font-style="normal" fill="#111" text-anchor="start" word-spacing="0.6">0 A</text>
<text x="37.6" y="102.9" font-size="10.2" font-weight="bold" font-style="normal" fill="#111" text-anchor="start" >200 <tspan dx='0.2' font-size='10.9'>µs</tspan></text>
<text x="132.8" y="127.0" font-size="10.8" font-weight="bold" font-style="normal" fill="#111" text-anchor="middle" >(a)</text>
<text x="281.8" y="46.2" font-size="10.6" font-weight="bold" font-style="normal" fill="#1ab862" text-anchor="start" word-spacing="0.6">2 A</text>
<text x="281.8" y="81.1" font-size="10.6" font-weight="bold" font-style="normal" fill="#111" text-anchor="start" word-spacing="0.6">0 A</text>
<text x="316.5" y="103.2" font-size="10.2" font-weight="bold" font-style="normal" fill="#111" text-anchor="start" >200 <tspan dx='0.2' font-size='10.9'>µs</tspan></text>
<text x="411.3" y="127.1" font-size="10.8" font-weight="bold" font-style="normal" fill="#111" text-anchor="middle" >(b)</text>
<text x="142.4" y="172.4" font-size="10.6" font-weight="bold" font-style="normal" fill="#1ab862" text-anchor="start" word-spacing="0.6">2 A</text>
<text x="142.4" y="207.9" font-size="10.6" font-weight="bold" font-style="normal" fill="#111" text-anchor="start" word-spacing="0.6">0 A</text>
<text x="177.0" y="229.7" font-size="10.2" font-weight="bold" font-style="normal" fill="#111" text-anchor="start" >200 <tspan dx='0.2' font-size='10.9'>µs</tspan></text>
<text x="272.5" y="254.0" font-size="10.8" font-weight="bold" font-style="normal" fill="#111" text-anchor="middle" >(c)</text>
<text x="163.2" y="30.0" font-size="10" font-weight="bold" font-style="italic" fill="#111" text-anchor="start" ><tspan font-size="10.5">i</tspan><tspan font-size="7.8" dx="0.2" dy="0">d</tspan><tspan font-size="6.5" dx="0.7" dy="-3.4" font-weight="normal">*</tspan></text>
<text x="183.5" y="93.2" font-size="10" font-weight="bold" font-style="italic" fill="#111" text-anchor="start" ><tspan font-size="10.5">i</tspan><tspan font-size="7.8" dx="0.2" dy="0">d</tspan></text>
<text x="442.2" y="30.4" font-size="10" font-weight="bold" font-style="italic" fill="#111" text-anchor="start" ><tspan font-size="10.5">i</tspan><tspan font-size="7.8" dx="0.2" dy="0">d</tspan><tspan font-size="6.5" dx="0.7" dy="-3.4" font-weight="normal">*</tspan></text>
<text x="462.8" y="93.3" font-size="10" font-weight="bold" font-style="italic" fill="#111" text-anchor="start" ><tspan font-size="10.5">i</tspan><tspan font-size="7.8" dx="0.2" dy="0">d</tspan></text>
<text x="302.9" y="157.2" font-size="10" font-weight="bold" font-style="italic" fill="#111" text-anchor="start" ><tspan font-size="10.5">i</tspan><tspan font-size="7.8" dx="0.2" dy="0">d</tspan><tspan font-size="6.5" dx="0.7" dy="-3.4" font-weight="normal">*</tspan></text>
<text x="322.8" y="220.0" font-size="10" font-weight="bold" font-style="italic" fill="#111" text-anchor="start" ><tspan font-size="10.5">i</tspan><tspan font-size="7.8" dx="0.2" dy="0">d</tspan></text>
</svg>
</body></html>
